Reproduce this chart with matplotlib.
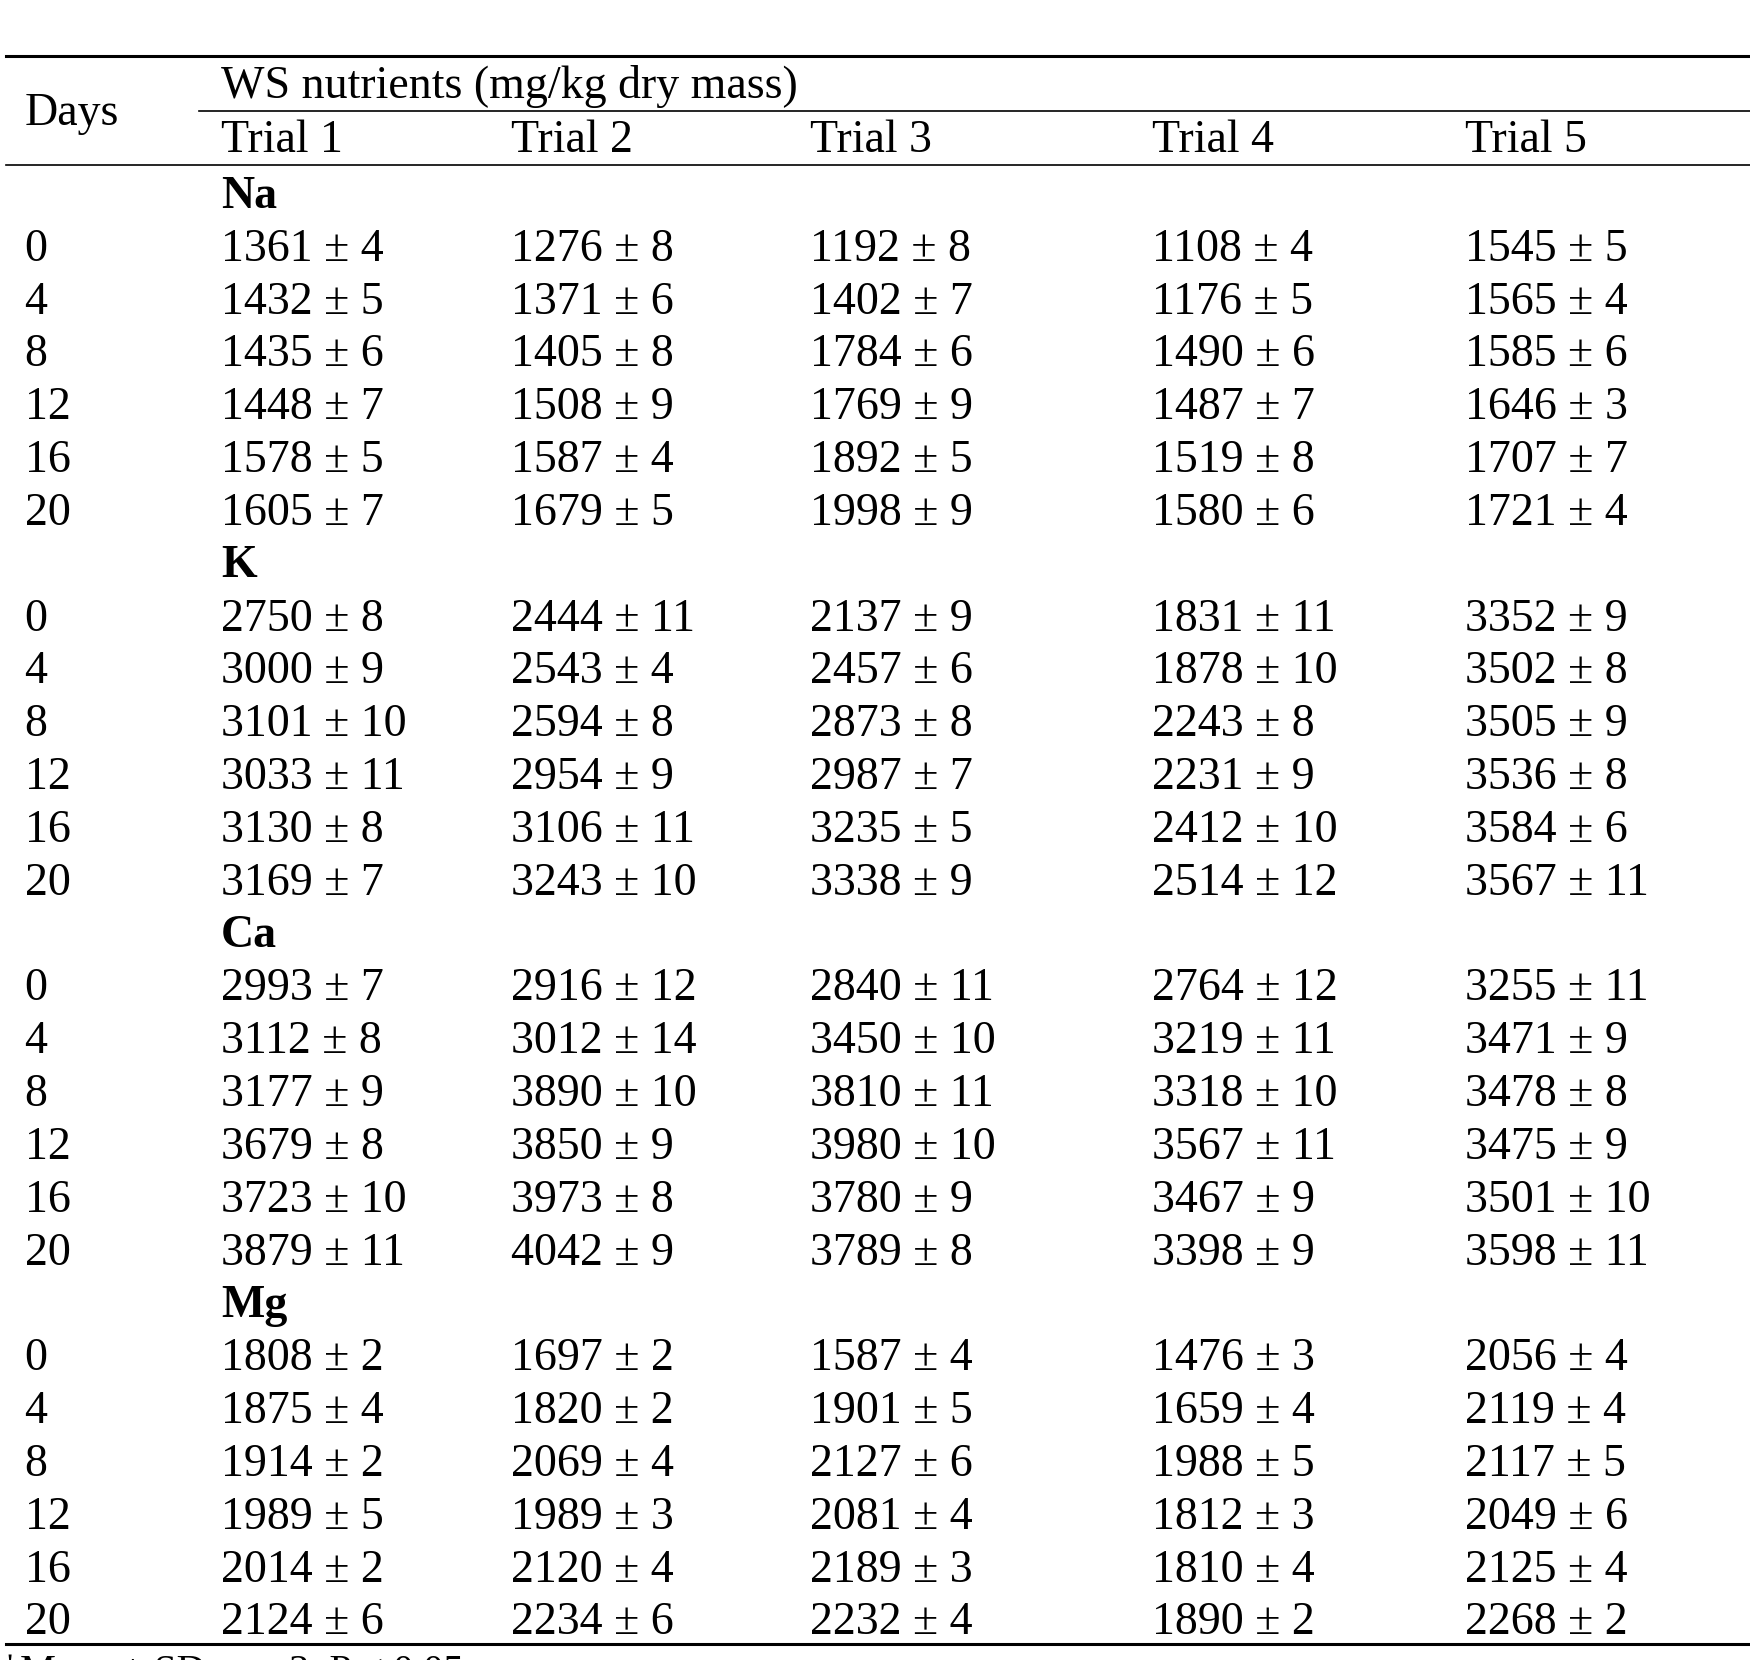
import matplotlib
matplotlib.use("Agg")
import matplotlib.pyplot as plt

days = [0, 4, 8, 12, 16, 20]
trials = ["Trial 1", "Trial 2", "Trial 3", "Trial 4", "Trial 5"]
na = [["1361 ± 4","1276 ± 8","1192 ± 8","1108 ± 4","1545 ± 5"],
      ["1432 ± 5","1371 ± 6","1402 ± 7","1176 ± 5","1565 ± 4"],
      ["1435 ± 6","1405 ± 8","1784 ± 6","1490 ± 6","1585 ± 6"],
      ["1448 ± 7","1508 ± 9","1769 ± 9","1487 ± 7","1646 ± 3"],
      ["1578 ± 5","1587 ± 4","1892 ± 5","1519 ± 8","1707 ± 7"],
      ["1605 ± 7","1679 ± 5","1998 ± 9","1580 ± 6","1721 ± 4"]]
k = [["2750 ± 8","2444 ± 11","2137 ± 9","1831 ± 11","3352 ± 9"],
     ["3000 ± 9","2543 ± 4","2457 ± 6","1878 ± 10","3502 ± 8"],
     ["3101 ± 10","2594 ± 8","2873 ± 8","2243 ± 8","3505 ± 9"],
     ["3033 ± 11","2954 ± 9","2987 ± 7","2231 ± 9","3536 ± 8"],
     ["3130 ± 8","3106 ± 11","3235 ± 5","2412 ± 10","3584 ± 6"],
     ["3169 ± 7","3243 ± 10","3338 ± 9","2514 ± 12","3567 ± 11"]]
ca = [["2993 ± 7","2916 ± 12","2840 ± 11","2764 ± 12","3255 ± 11"],
      ["3112 ± 8","3012 ± 14","3450 ± 10","3219 ± 11","3471 ± 9"],
      ["3177 ± 9","3890 ± 10","3810 ± 11","3318 ± 10","3478 ± 8"],
      ["3679 ± 8","3850 ± 9","3980 ± 10","3567 ± 11","3475 ± 9"],
      ["3723 ± 10","3973 ± 8","3780 ± 9","3467 ± 9","3501 ± 10"],
      ["3879 ± 11","4042 ± 9","3789 ± 8","3398 ± 9","3598 ± 11"]]
mg = [["1808 ± 2","1697 ± 2","1587 ± 4","1476 ± 3","2056 ± 4"],
      ["1875 ± 4","1820 ± 2","1901 ± 5","1659 ± 4","2119 ± 4"],
      ["1914 ± 2","2069 ± 4","2127 ± 6","1988 ± 5","2117 ± 5"],
      ["1989 ± 5","1989 ± 3","2081 ± 4","1812 ± 3","2049 ± 6"],
      ["2014 ± 2","2120 ± 4","2189 ± 3","1810 ± 4","2125 ± 4"],
      ["2124 ± 6","2234 ± 6","2232 ± 4","1890 ± 2","2268 ± 2"]]
groups = [("Na", na), ("K", k), ("Ca", ca), ("Mg", mg)]

W, H = 1568, 1486
fig = plt.figure(figsize=(17.5, 16.6), dpi=100)
ax = fig.add_axes([0, 0, 1, 1])
ax.set_xlim(0, W); ax.set_ylim(H, 0); ax.axis("off")
plt.rcParams['font.family'] = ['Liberation Serif', 'DejaVu Serif']
fs = 33
colx = [198, 458, 726, 1032, 1313]

ax.plot([5, W], [50, 50], color="black", lw=2.2)
ax.plot([178, W], [99, 99], color="black", lw=1.2)
ax.plot([5, W], [148, 148], color="black", lw=1.2)
ax.plot([5, W], [1472, 1472], color="black", lw=2.2)

ax.text(22, 102, "Days", fontsize=fs, va="center")
ax.text(198, 77, "WS nutrients (mg/kg dry mass)", fontsize=fs, va="center")
for x, t in zip(colx, trials):
    ax.text(x, 126, t, fontsize=fs, va="center")

step = 47.3
y = 176
for name, data in groups:
    ax.text(198, y, name, fontsize=fs, va="center", fontweight="bold")
    y += step
    for d, row in zip(days, data):
        ax.text(22, y, str(d), fontsize=fs, va="center")
        for x, v in zip(colx, row):
            ax.text(x, y, v, fontsize=fs, va="center")
        y += step

ax.text(0, 1497, "†Mean ± SD, n = 3, P < 0.05", fontsize=fs - 4, va="center")
fig.savefig("out.png", dpi=100)
